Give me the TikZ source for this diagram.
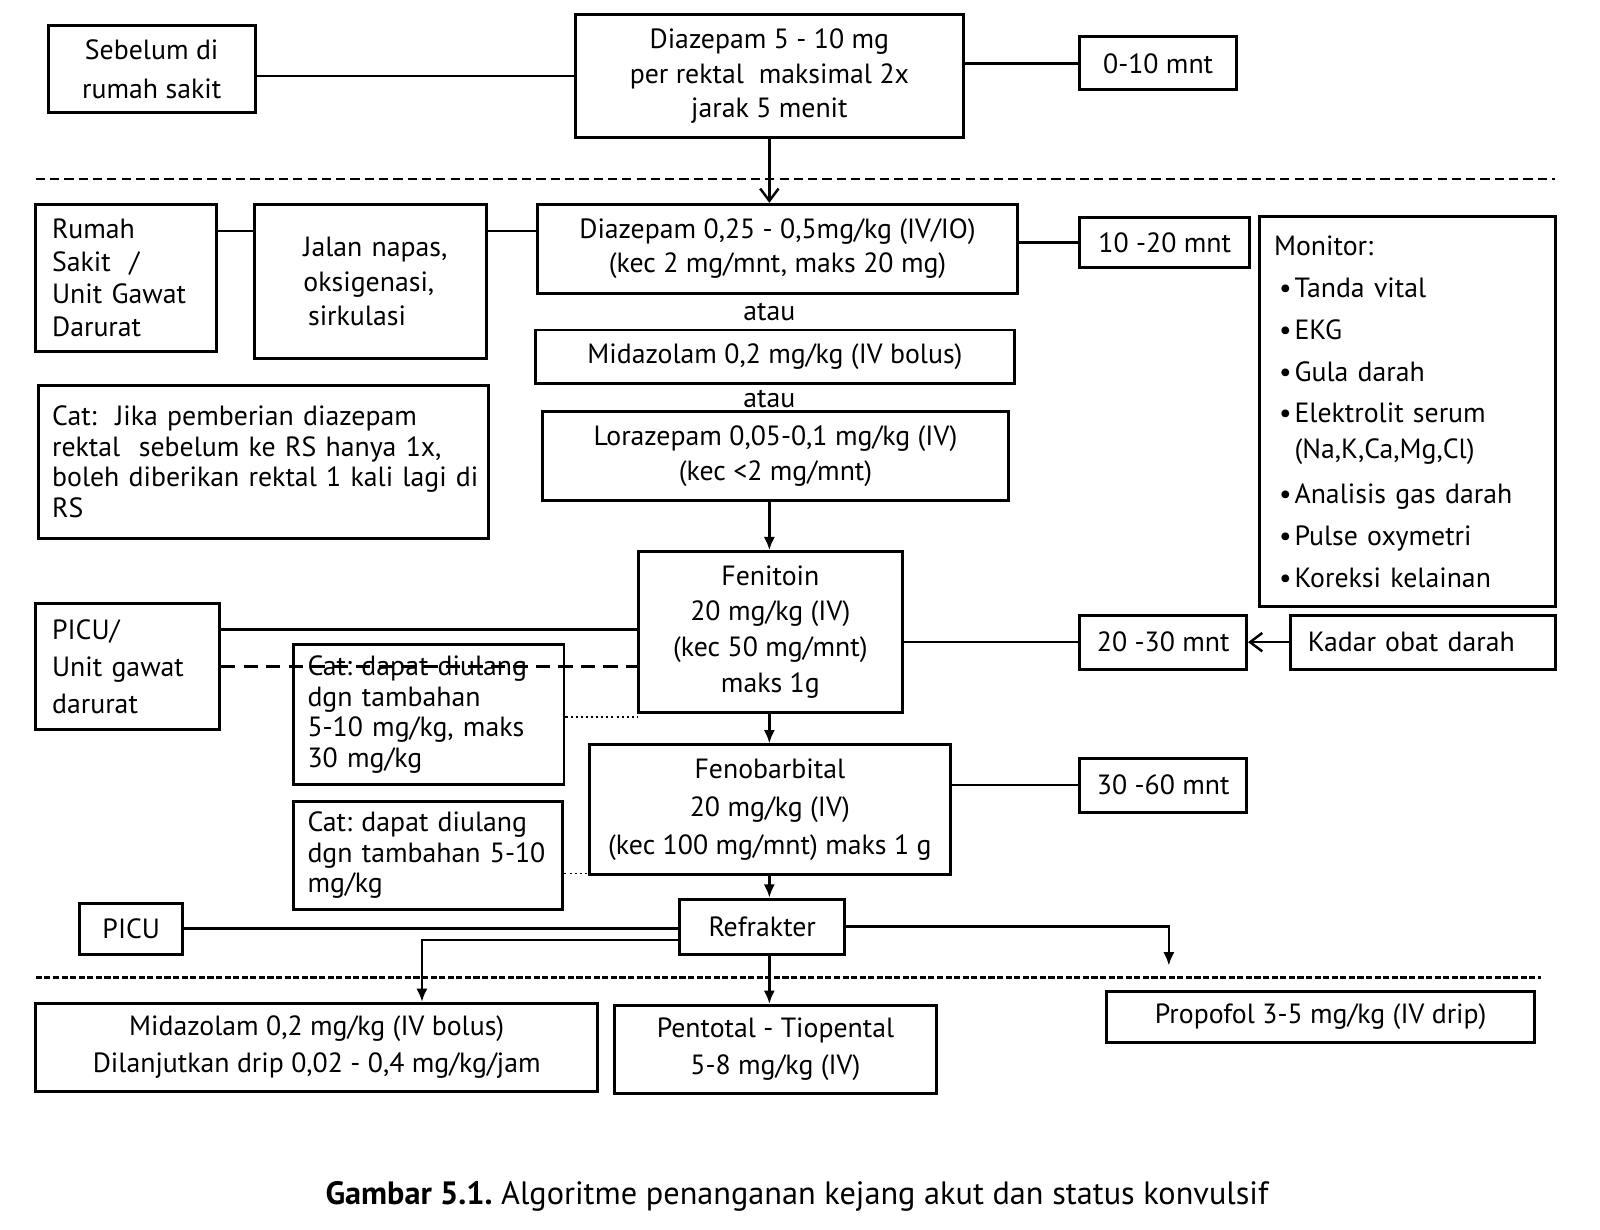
\documentclass[tikz,border=0pt]{standalone}
\usepackage{fontspec}
\setmainfont{PT Sans}
\usetikzlibrary{arrows.meta,calc}
\newcommand\fsz[1]{\fontsize{13.6}{#1}\selectfont}
% box from corners: name, x1, y1, x2, y2, extra options, text
\newcommand\bx[7]{\node[box,#6,minimum width={(#4-#2)*0.5pt},minimum height={(#5-#3)*0.5pt}] (#1) at ({(#2+#4)/2},{(#3+#5)/2}) {#7};}
% left aligned box: name, x1, y1, x2, y2, pad, extra options, text
\newcommand\lbx[8]{\node[box,align=left,#7,text width={(#4-#2-2*#6)*0.5pt},minimum width={(#4-#2)*0.5pt},minimum height={(#5-#3)*0.5pt}] (#1) at ({(#2+#4)/2},{(#3+#5)/2}) {#8};}
\newcommand\bul{\hspace*{2.5pt}\makebox[7.5pt][l]{\textbullet}}
\frenchspacing
\begin{document}
\frenchspacing
\begin{tikzpicture}[x=0.5pt,y=-0.5pt,
  box/.style={draw,line width=1.45pt,inner sep=0pt,align=center,font=\fsz{17}},
  ln/.style={line width=1.25pt},
  arr/.style={line width=1.25pt,-{Latex[length=6.5pt,width=5.5pt]}},
  arrO/.style={line width=1.25pt,-{Straight Barb[length=6pt,width=9pt,line width=1.2pt]}},
  dashline/.style={line width=1.5pt,dash pattern=on 7pt off 4pt},
  dotline/.style={line width=0.9pt,dash pattern=on 1pt off 1.5pt},
  sepA/.style={line width=1.1pt,dash pattern=on 4.5pt off 2.5pt},
  sepB/.style={line width=1.4pt,dash pattern=on 3pt off 1.2pt}]
\fill[white] (0,0) rectangle (1566,1203);
\useasboundingbox (0,0) rectangle (1566,1203);
\coordinate (cx) at (753,0);
\coordinate (l2) at (0,226);
\coordinate (lA) at (0,616);
\coordinate (lB) at (0,652);
\coordinate (lC) at (0,702);
\coordinate (lD) at (0,855);
\coordinate (lE) at (0,907);
\coordinate (lF) at (0,920);
\coordinate (cm) at (413,0);
\coordinate (pa) at (1144,945);

% separators
\draw[sepA] (35,175) -- (1522,175);
\draw[sepB] (35,957) -- (1508,957);

% top
\bx{seb}{47}{25}{250}{110}{font=\fsz{19}}{Sebelum di\\rumah sakit}
\bx{dz1}{563}{14}{943}{135}{}{Diazepam 5 - 10 mg\\per rektal\ \ maksimal 2x\\jarak 5 menit}
\bx{t1}{1057}{36}{1210}{88}{}{0-10 mnt}

% second part
\lbx{rs}{35}{200}{212}{344}{16}{font=\fsz{16}}{\mbox{Rumah}\\\mbox{Sakit\ \ /}\\\mbox{Unit Gawat}\\\mbox{Darurat}}
\lbx{jal}{249}{200}{476}{351}{48}{}{\mbox{Jalan napas,}\\\mbox{oksigenasi,}\\\mbox{\,sirkulasi}}
\bx{dz2}{526}{200}{996}{287}{}{Diazepam 0,25 - 0,5mg/kg (IV/IO)\\(kec 2 mg/mnt, maks 20 mg)}
\bx{t2}{1057}{213}{1223}{262}{}{10 -20 mnt}
\lbx{mon}{1233}{212}{1522}{594}{14}{font=\fsz{20.5}}{\mbox{Monitor:}\\\mbox{\bul Tanda vital}\\\mbox{\bul EKG}\\\mbox{\bul Gula darah}\\\mbox{\bul Elektrolit serum}\\[-3pt]\mbox{\hspace*{10pt}(Na,K,Ca,Mg,Cl)}\\[1.5pt]\mbox{\bul Analisis gas darah}\\\mbox{\bul Pulse oxymetri}\\\mbox{\bul Koreksi kelainan}}
\node[font=\fsz{17},inner sep=0pt] (atau1) at (753,305) {atau};
\bx{mid}{524}{323}{993}{375}{}{Midazolam 0,2 mg/kg (IV bolus)}
\node[font=\fsz{17},inner sep=0pt] (atau2) at (753,391) {atau};
\bx{lora}{531}{403}{987}{490}{}{Lorazepam 0,05-0,1 mg/kg (IV)\\(kec {<}2 mg/mnt)}
\lbx{cat1}{38}{377}{478}{527}{13}{font=\fsz{15}}{\mbox{Cat:\ \ Jika pemberian diazepam}\\\mbox{rektal\ \ sebelum ke RS hanya 1x,}\\\mbox{boleh diberikan rektal 1 kali lagi di}\\\mbox{RS}}

% fenitoin part
\bx{fen}{625}{540}{883}{697}{font=\fsz{17.5}}{Fenitoin\\20 mg/kg (IV)\\(kec 50 mg/mnt)\\maks 1g}
\lbx{picu1}{35}{591}{215}{714}{16}{font=\fsz{18}}{\mbox{PICU/}\\\mbox{Unit gawat}\\\mbox{darurat}}
\lbx{cat2}{287}{631}{552}{768}{14}{font=\fsz{15}}{\mbox{Cat: dapat diulang}\\\mbox{dgn tambahan}\\\mbox{5-10 mg/kg, maks}\\\mbox{30 mg/kg}}
\bx{t3}{1057}{602}{1220}{655}{}{20 -30 mnt}
\lbx{kadar}{1263}{602}{1522}{655}{17}{}{\mbox{Kadar obat darah}}
\bx{feno}{577}{729}{930}{856}{font=\fsz{18.5}}{Fenobarbital\\20 mg/kg (IV)\\(kec 100 mg/mnt) maks 1 g}
\bx{t4}{1057}{742}{1220}{795}{}{30 -60 mnt}
\lbx{cat3}{287}{784}{551}{890}{14}{font=\fsz{15}}{\mbox{Cat: dapat diulang}\\\mbox{dgn tambahan 5-10}\\\mbox{mg/kg}}
\bx{refr}{665}{880}{827}{934}{}{Refrakter}
\bx{picu2}{78}{884}{179}{934}{}{PICU}

% bottom
\bx{mid2}{35}{982}{585}{1068}{font=\fsz{18}}{Midazolam 0,2 mg/kg (IV bolus)\\Dilanjutkan drip 0,02 - 0,4 mg/kg/jam}
\bx{pent}{601}{984}{917}{1070}{font=\fsz{18}}{Pentotal - Tiopental\\5-8 mg/kg (IV)}
\bx{prop}{1083}{970}{1502}{1020}{}{Propofol 3-5 mg/kg (IV drip)}

\node[font=\fontsize{15.8}{19}\selectfont,inner sep=0pt] (cap) at (780,1171) {\textbf{Gambar 5.1.} Algoritme penanganan kejang akut dan status konvulsif};

% connectors
\draw[ln] (seb.east |- dz1.west) -- (dz1.west);
\draw[ln] (dz1.east |- t1.west) -- (t1.west);
\draw[arrO] (cx |- dz1.south) -- (cx |- dz2.north);
\draw[ln] (rs.east |- l2) -- (jal.west |- l2);
\draw[ln] (jal.east |- l2) -- (dz2.west |- l2);
\draw[ln] (dz2.east |- t2.west) -- (t2.west);
\draw[arr] (cx |- lora.south) -- (cx |- fen.north);
\draw[ln] (picu1.east |- lA) -- (fen.west |- lA);
\draw[dashline] (picu1.east |- lB) -- (fen.west |- lB);
\draw[dotline] (cat2.east |- lC) -- (fen.west |- lC);
\draw[ln] (fen.east |- t3.west) -- (t3.west);
\draw[arrO] (kadar.west) -- (t3.east);
\draw[arr] (cx |- fen.south) -- (cx |- feno.north);
\draw[ln] (feno.east |- t4.west) -- (t4.west);
\draw[dotline] (cat3.east |- lD) -- (feno.west |- lD);
\draw[arr] (cx |- feno.south) -- (cx |- refr.north);
\draw[ln] (picu2.east) -- (picu2.east -| refr.west);
\draw[arr] (refr.east |- lE) -| (pa);
\draw[arr] (refr.west |- lF) -| (cm |- mid2.north);
\draw[arr] (cx |- refr.south) -- (cx |- pent.north);
\end{tikzpicture}
\end{document}
